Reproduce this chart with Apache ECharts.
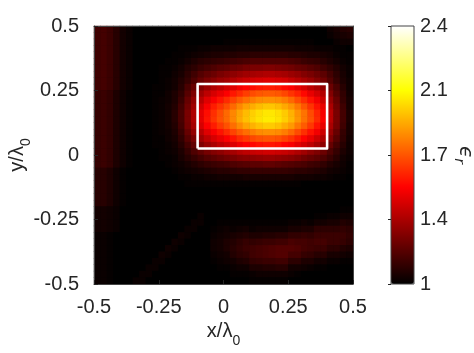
<!DOCTYPE html>
<html>
<head>
<meta charset="utf-8">
<script src="https://cdn.jsdelivr.net/npm/echarts@6/dist/echarts.min.js"></script>
<style>
html, body { margin: 0; background: #fff; }
#chart { width: 474px; height: 353px; }
</style>
</head>
<body>
<div id="chart"></div>
<script>
// centres of the 40 x 40 cells, in units of lambda0 (same for x and y)
const cellCenters = [-0.4875, -0.4625, -0.4375, -0.4125, -0.3875, -0.3625, -0.3375, -0.3125, -0.2875, -0.2625,
  -0.2375, -0.2125, -0.1875, -0.1625, -0.1375, -0.1125, -0.0875, -0.0625, -0.0375, -0.0125,
  0.0125, 0.0375, 0.0625, 0.0875, 0.1125, 0.1375, 0.1625, 0.1875, 0.2125, 0.2375,
  0.2625, 0.2875, 0.3125, 0.3375, 0.3625, 0.3875, 0.4125, 0.4375, 0.4625, 0.4875];

// colorbar ticks
const cbTickValues = [1, 1.35, 1.7, 2.05, 2.4];
const cbTickLabels = ['1', '1.4', '1.7', '2.1', '2.4'];

// white outline (true object)
const rectX = [-0.1, 0.4, 0.4, -0.1, -0.1];
const rectY = [0.025, 0.025, 0.275, 0.275, 0.025];

// reconstructed eps_r, one row per cell row, top row (y = 0.4875) first
const epsRows = [
  [1.13,1.14,1.12,1.08,1.04,1.02,1,1,1, 1,1,1,1,1,1,1,1,1,1, 1,1,1,1,1,1,1,1,1,1, 1,1,1,1,1,1,1, 1.03,1.05,1.07,1.08],
  [1.13,1.14,1.12,1.08,1.04,1.02,1,1,1, 1,1,1,1,1,1,1,1,1,1, 1,1,1,1,1,1,1,1,1,1, 1,1,1,1,1,1,1, 1.02,1.04,1.05,1.06],
  [1.13,1.14,1.12,1.08,1.04,1.02,1,1,1, 1,1,1,1,1,1,1,1,1,1,1, 1.01,1.01,1.01,1.01,1.01,1.01,1.01,1.01,1.01,1.01,1.01,1.01,1.01,1.01, 1,1,1, 1.02,1.03,1.03],
  [1.13,1.14,1.12,1.08,1.04,1.02,1,1,1, 1,1,1,1,1.01,1.01,1.01,1.02,1.02,1.03,1.03,1.03,1.03,1.04,1.04,1.04,1.04,1.04,1.04,1.04,1.04,1.04,1.03,1.03,1.03,1.02,1.02,1.02,1.01,1.01,1],
  [1.13,1.14,1.12,1.08,1.04,1.02,1,1,1, 1,1,1,1.01,1.01,1.02,1.03,1.04,1.05,1.06,1.06,1.07,1.07,1.08,1.08,1.09,1.09,1.09,1.09,1.09,1.09,1.08,1.08,1.07,1.06,1.06,1.05,1.04,1.02,1.01,1.01],
  [1.13,1.14,1.12,1.08,1.04,1.02,1,1,1, 1,1,1.01,1.01,1.02,1.04,1.06,1.08,1.09,1.10,1.11,1.12,1.13,1.14,1.15,1.16,1.16,1.16,1.16,1.16,1.16,1.15,1.14,1.12,1.11,1.10,1.08,1.06,1.04,1.02,1.01],
  [1.13,1.14,1.12,1.08,1.04,1.02,1,1,1, 1,1.01,1.01,1.02,1.04,1.07,1.09,1.12,1.14,1.16,1.18,1.19,1.21,1.22,1.24,1.25,1.25,1.26,1.26,1.25,1.24,1.23,1.21,1.20,1.18,1.16,1.13,1.10,1.07,1.04,1.02],
  [1.13,1.14,1.12,1.08,1.04,1.02,1,1,1, 1,1.01,1.01,1.03,1.05,1.09,1.13,1.17,1.20,1.22,1.25,1.27,1.29,1.31,1.33,1.34,1.35,1.36,1.36,1.35,1.34,1.32,1.30,1.27,1.25,1.22,1.19,1.14,1.09,1.05,1.02],
  [1.13,1.14,1.12,1.08,1.04,1.02,1,1,1, 1,1.01,1.02,1.04,1.07,1.11,1.16,1.21,1.25,1.28,1.31,1.33,1.36,1.39,1.41,1.43,1.44,1.45,1.45,1.44,1.43,1.40,1.37,1.34,1.31,1.27,1.23,1.17,1.11,1.06,1.03],
  [1.13,1.14,1.12,1.08,1.04,1.02,1,1,1, 1.01,1.01,1.02,1.04,1.08,1.15,1.21,1.27,1.32,1.36,1.39,1.43,1.46,1.50,1.53,1.55,1.57,1.58,1.58,1.57,1.54,1.52,1.48,1.44,1.39,1.35,1.30,1.22,1.15,1.08,1.03],
  [1.11,1.12,1.10,1.06,1.03,1.01,1,1,1, 1.01,1.01,1.03,1.06,1.10,1.18,1.26,1.33,1.39,1.44,1.48,1.52,1.57,1.61,1.65,1.68,1.70,1.71,1.71,1.70,1.67,1.63,1.59,1.54,1.48,1.43,1.37,1.27,1.18,1.10,1.04],
  [1.11,1.12,1.10,1.06,1.03,1.01,1,1,1, 1.01,1.02,1.03,1.06,1.12,1.21,1.30,1.38,1.46,1.51,1.56,1.61,1.66,1.71,1.75,1.78,1.81,1.82,1.82,1.81,1.78,1.74,1.68,1.62,1.56,1.50,1.42,1.31,1.21,1.11,1.05],
  [1.11,1.12,1.10,1.06,1.03,1.01,1,1,1, 1.01,1.02,1.04,1.07,1.14,1.23,1.33,1.43,1.51,1.58,1.63,1.68,1.74,1.80,1.85,1.88,1.91,1.93,1.93,1.91,1.87,1.83,1.77,1.70,1.63,1.56,1.48,1.35,1.23,1.13,1.05],
  [1.11,1.12,1.10,1.06,1.03,1.01,1,1,1, 1.01,1.02,1.04,1.08,1.15,1.25,1.36,1.47,1.55,1.62,1.68,1.74,1.80,1.86,1.91,1.95,1.98,2.00,2.00,1.98,1.94,1.89,1.82,1.76,1.68,1.60,1.51,1.38,1.25,1.14,1.06],
  [1.11,1.12,1.10,1.06,1.03,1.01,1,1,1, 1.01,1.02,1.04,1.08,1.15,1.25,1.36,1.47,1.56,1.63,1.69,1.74,1.80,1.87,1.92,1.96,1.99,2.01,2.01,1.99,1.95,1.90,1.83,1.76,1.69,1.61,1.52,1.38,1.25,1.14,1.06],
  [1.11,1.12,1.10,1.06,1.03,1.01,1,1,1, 1.01,1.02,1.04,1.07,1.14,1.24,1.34,1.44,1.52,1.58,1.64,1.69,1.75,1.81,1.86,1.89,1.92,1.94,1.94,1.92,1.88,1.84,1.77,1.71,1.64,1.56,1.48,1.35,1.24,1.13,1.05],
  [1.11,1.12,1.10,1.06,1.03,1.01,1,1,1, 1.01,1.02,1.03,1.06,1.12,1.21,1.30,1.38,1.46,1.51,1.56,1.61,1.66,1.71,1.75,1.78,1.81,1.82,1.82,1.81,1.78,1.74,1.68,1.62,1.56,1.50,1.42,1.31,1.21,1.11,1.05],
  [1.11,1.12,1.10,1.06,1.03,1.01,1,1,1, 1.01,1.01,1.03,1.05,1.10,1.18,1.25,1.33,1.39,1.44,1.48,1.52,1.56,1.61,1.64,1.67,1.69,1.70,1.70,1.69,1.66,1.63,1.58,1.53,1.48,1.42,1.36,1.27,1.18,1.10,1.04],
  [1.11,1.12,1.10,1.06,1.03,1.01,1,1,1, 1.01,1.01,1.02,1.04,1.08,1.14,1.20,1.26,1.31,1.35,1.39,1.42,1.45,1.49,1.52,1.54,1.56,1.57,1.57,1.56,1.53,1.51,1.47,1.43,1.39,1.34,1.29,1.21,1.14,1.08,1.03],
  [1.11,1.12,1.10,1.06,1.03,1.01,1,1,1, 1,1.01,1.02,1.03,1.06,1.11,1.16,1.20,1.24,1.27,1.29,1.32,1.34,1.37,1.39,1.41,1.42,1.43,1.43,1.42,1.41,1.39,1.36,1.33,1.29,1.26,1.22,1.16,1.11,1.06,1.03],
  [1.11,1.12,1.10,1.06,1.03,1.01,1,1,1, 1,1.01,1.01,1.02,1.05,1.08,1.11,1.14,1.17,1.19,1.21,1.23,1.25,1.27,1.28,1.29,1.30,1.31,1.31,1.30,1.29,1.28,1.26,1.23,1.21,1.19,1.16,1.12,1.08,1.04,1.02],
  [1.11,1.12,1.10,1.06,1.03,1.01,1,1,1, 1,1,1.01,1.02,1.03,1.05,1.07,1.09,1.11,1.12,1.13,1.14,1.16,1.17,1.18,1.19,1.19,1.20,1.20,1.19,1.18,1.17,1.16,1.15,1.13,1.12,1.10,1.07,1.05,1.03,1.01],
  [1.08,1.08,1.06,1.03,1.01,1,1,1,1, 1,1,1,1.01,1.02,1.03,1.04,1.05,1.06,1.07,1.08,1.08,1.09,1.10,1.10,1.11,1.11,1.11,1.11,1.11,1.11,1.10,1.09,1.09,1.08,1.07,1.06,1.04,1.03,1.02,1.01],
  [1.08,1.08,1.06,1.03,1.01,1,1,1,1, 1,1,1,1,1.01,1.01,1.02,1.02,1.03,1.03,1.04,1.04,1.04,1.04,1.05,1.05,1.05,1.05,1.05,1.05,1.05,1.05,1.04,1.04,1.04,1.03,1.03,1.02,1.01,1.01,1],
  [1.08,1.08,1.06,1.03,1.01,1,1,1,1, 1,1,1,1,1, 1.01,1.01,1.01,1.01,1.01,1.01,1.01,1.01,1.01,1.01,1.01,1.01,1.01,1.01,1.01,1.01,1.01,1.01, 1,1,1,1,1,1,1,1],
  [1.08,1.08,1.06,1.03,1.01,1,1,1,1, 1,1,1,1,1,1,1,1,1,1, 1,1,1,1,1,1,1,1,1,1, 1,1,1,1,1,1,1,1,1,1,1],
  [1.08,1.08,1.06,1.03,1.01,1,1,1,1, 1,1,1,1,1,1,1,1,1,1, 1,1,1,1,1,1,1,1,1,1, 1,1,1,1,1,1,1,1,1,1,1],
  [1.08,1.08,1.06,1.03,1.01,1,1,1,1, 1,1,1,1,1,1,1,1,1,1, 1,1,1,1,1,1,1,1,1,1, 1,1,1,1,1,1,1,1,1,1,1],
  [1.04,1.04,1.03,1.02,1,1,1,1,1, 1,1,1,1,1,1,1,1,1,1, 1,1,1,1,1,1,1,1,1,1, 1,1,1,1,1,1,1,1,1,1.01,1.01],
  [1.04,1.04,1.03,1.02,1,1,1,1,1, 1,1,1,1,1,1,1,1.02,1,1, 1,1,1,1,1,1,1,1,1,1, 1,1,1,1,1,1.01,1.01,1.02,1.02,1.03,1.03],
  [1.04,1.04,1.03,1.02,1,1,1,1,1, 1,1,1,1,1,1,1.02,1.02,1,1, 1.01,1.01,1.01,1.01,1.01,1.01,1.01,1.01,1.01,1.01,1.01,1.02,1.02,1.03,1.02,1.04,1.04,1.05,1.05,1.07,1.06],
  [1.04,1.04,1.03,1.02,1,1,1,1,1, 1,1,1,1,1,1.02,1.02,1,1, 1.01,1.02,1.03,1.02,1.03,1.04,1.02,1.03,1.03,1.03,1.03,1.03,1.05,1.05,1.06,1.06,1.09,1.09,1.09,1.09,1.10,1.09],
  [1.02,1.02,1.01,1,1,1,1,1,1, 1,1,1,1,1.03,1.02,1,1,1, 1.02,1.03,1.04,1.05,1.06,1.07,1.06,1.06,1.07,1.07,1.08,1.08,1.10,1.10,1.11,1.10,1.12,1.12,1.12,1.12,1.12,1.10],
  [1.02,1.02,1.01,1,1,1,1,1,1, 1,1,1,1.03,1.02,1,1,1,1, 1.03,1.04,1.06,1.07,1.09,1.11,1.10,1.11,1.12,1.12,1.13,1.13,1.15,1.14,1.14,1.13,1.14,1.14,1.12,1.12,1.11,1.09],
  [1.02,1.02,1.01,1,1,1,1,1,1, 1,1,1.03,1.02,1,1,1,1,1, 1.03,1.04,1.06,1.08,1.10,1.12,1.13,1.14,1.15,1.16,1.17,1.17,1.17,1.16,1.14,1.13,1.12,1.12,1.09,1.09,1.07,1.06],
  [1.02,1.02,1.01,1,1,1,1,1,1, 1,1.03,1.02,1,1,1,1,1,1, 1.02,1.03,1.04,1.07,1.09,1.10,1.13,1.14,1.15,1.16,1.17,1.17,1.14,1.14,1.11,1.10,1.08,1.08,1.05,1.05,1.04,1.03],
  [1.02,1.02,1.01,1,1,1,1,1,1, 1.02,1.02,1,1,1,1,1,1,1, 1.01,1.02,1.03,1.04,1.06,1.07,1.10,1.11,1.12,1.12,1.13,1.13,1.09,1.09,1.06,1.06,1.04,1.04,1.02,1.02,1.01,1.01],
  [1.02,1.02,1.01,1,1,1,1,1,1.02, 1.02,1,1,1,1,1,1,1,1,1, 1.01,1.01,1.02,1.03,1.03,1.06,1.06,1.07,1.07,1.08,1.08,1.04,1.04,1.03,1.02,1.01,1.01,1,1,1,1],
  [1.02,1.02,1.01,1,1,1,1,1.02,1.02, 1,1,1,1,1,1,1,1,1,1,1,1, 1.01,1.01,1.01,1.02,1.03,1.03,1.03,1.03,1.03,1.02,1.01, 1,1,1,1,1,1,1,1],
  [1.02,1.02,1.01,1,1,1,1.02,1.02,1, 1,1,1,1,1,1,1,1,1,1,1,1,1,1,1, 1.01,1.01,1.01,1.01,1.01,1.01, 1,1,1,1,1,1,1,1,1,1]
];

// MATLAB "hot" colormap stops
const hotColors = ['#000000', '#550000', '#aa0000', '#ff0000', '#ff5500', '#ffaa00', '#ffff00', '#ffff80', '#ffffff'];

const font = 'Liberation Sans';
const ink = '#262626';
const boxLine = {show: true, onZero: false, lineStyle: {color: '#444', width: 1}};

let heatData = [];
epsRows.forEach(function (row, r) {
  const j = epsRows.length - 1 - r;
  row.forEach(function (v, i) { heatData.push([i, j, v]); });
});
const rectData = rectX.map(function (x, k) { return [x, rectY[k]]; });

const subRich = {
  t: {fontSize: 20, fontFamily: font, color: ink, lineHeight: 20, verticalAlign: 'top'},
  s: {fontSize: 14, fontFamily: font, color: ink, lineHeight: 14, padding: [12, 0, 0, 0], verticalAlign: 'top'}
};

let myChart = echarts.init(document.getElementById('chart'));
myChart.setOption({
  animation: false,
  backgroundColor: '#fff',
  grid: [
    {
      left: 94, top: 26, width: 259, height: 258, outerBoundsMode: 'none', containLabel: false,
      show: true, backgroundColor: '#000', borderWidth: 0, z: 0
    },
    {
      left: 391, top: 26, width: 23, height: 258, outerBoundsMode: 'none', containLabel: false,
      show: true, borderColor: '#444', borderWidth: 1, z: 10
    }
  ],
  xAxis: [
    {
      type: 'category', gridIndex: 0, data: cellCenters, position: 'top', z: 10,
      axisLine: boxLine, axisTick: {show: false}, axisLabel: {show: false}
    },
    {
      type: 'value', gridIndex: 0, min: -0.5, max: 0.5, interval: 0.25, position: 'bottom', z: 10,
      axisLine: boxLine,
      axisTick: {inside: true, length: 4, lineStyle: {color: ink}},
      splitLine: {show: false},
      axisLabel: {color: ink, fontSize: 20, fontFamily: font, margin: 13},
      name: '{t|x/λ}{s|0}', nameLocation: 'middle', nameGap: 35,
      nameTextStyle: {color: ink, rich: subRich}
    },
    {type: 'value', gridIndex: 1, min: 0, max: 1, show: false}
  ],
  yAxis: [
    {
      type: 'category', gridIndex: 0, data: cellCenters, position: 'right', z: 10,
      axisLine: boxLine, axisTick: {show: false}, axisLabel: {show: false}
    },
    {
      type: 'value', gridIndex: 0, min: -0.5, max: 0.5, interval: 0.25, position: 'left', z: 10,
      axisLine: boxLine,
      axisTick: {inside: true, length: 4, lineStyle: {color: ink}},
      splitLine: {show: false},
      axisLabel: {color: ink, fontSize: 20, fontFamily: font, margin: 15},
      name: '{t|y/λ}{s|0}', nameLocation: 'middle', nameGap: 67, nameMoveOverlap: false,
      nameTextStyle: {color: ink, rich: subRich}
    },
    {
      type: 'value', gridIndex: 1, min: 0, max: cbTickLabels.length - 1, interval: 1, position: 'right', z: 11,
      axisLine: {show: false},
      axisTick: {inside: true, length: 3, lineStyle: {color: ink}},
      splitLine: {show: false},
      axisLabel: {
        color: ink, fontSize: 20, fontFamily: font, margin: 6,
        formatter: function (v) { return cbTickLabels[v]; }
      },
      name: '{t|ϵ}{s|r}', nameLocation: 'middle', nameGap: 40, nameRotate: -90,
      nameTextStyle: {
        color: ink,
        rich: {
          t: {fontSize: 20, fontFamily: 'DejaVu Sans', fontStyle: 'italic', color: ink, lineHeight: 20, verticalAlign: 'top'},
          s: {fontSize: 14, fontFamily: 'DejaVu Sans', fontStyle: 'italic', color: ink, lineHeight: 14, padding: [10, 0, 0, 0], verticalAlign: 'top'}
        }
      }
    }
  ],
  visualMap: {
    type: 'continuous', seriesIndex: 0, dimension: 2,
    min: cbTickValues[0], max: cbTickValues[cbTickValues.length - 1],
    calculable: false, hoverLink: false, showLabel: false,
    left: 391, top: 26, itemWidth: 23, itemHeight: 258, padding: 0,
    inRange: {color: hotColors}
  },
  series: [
    {
      type: 'heatmap', xAxisIndex: 0, yAxisIndex: 0, z: 2,
      data: heatData,
      itemStyle: {borderWidth: 0},
      emphasis: {disabled: true}
    },
    {
      type: 'line', xAxisIndex: 1, yAxisIndex: 1,
      data: rectData, showSymbol: false, z: 5,
      lineStyle: {color: '#fff', width: 2.6, join: 'round'}
    }
  ]
});
</script>
</body>
</html>
